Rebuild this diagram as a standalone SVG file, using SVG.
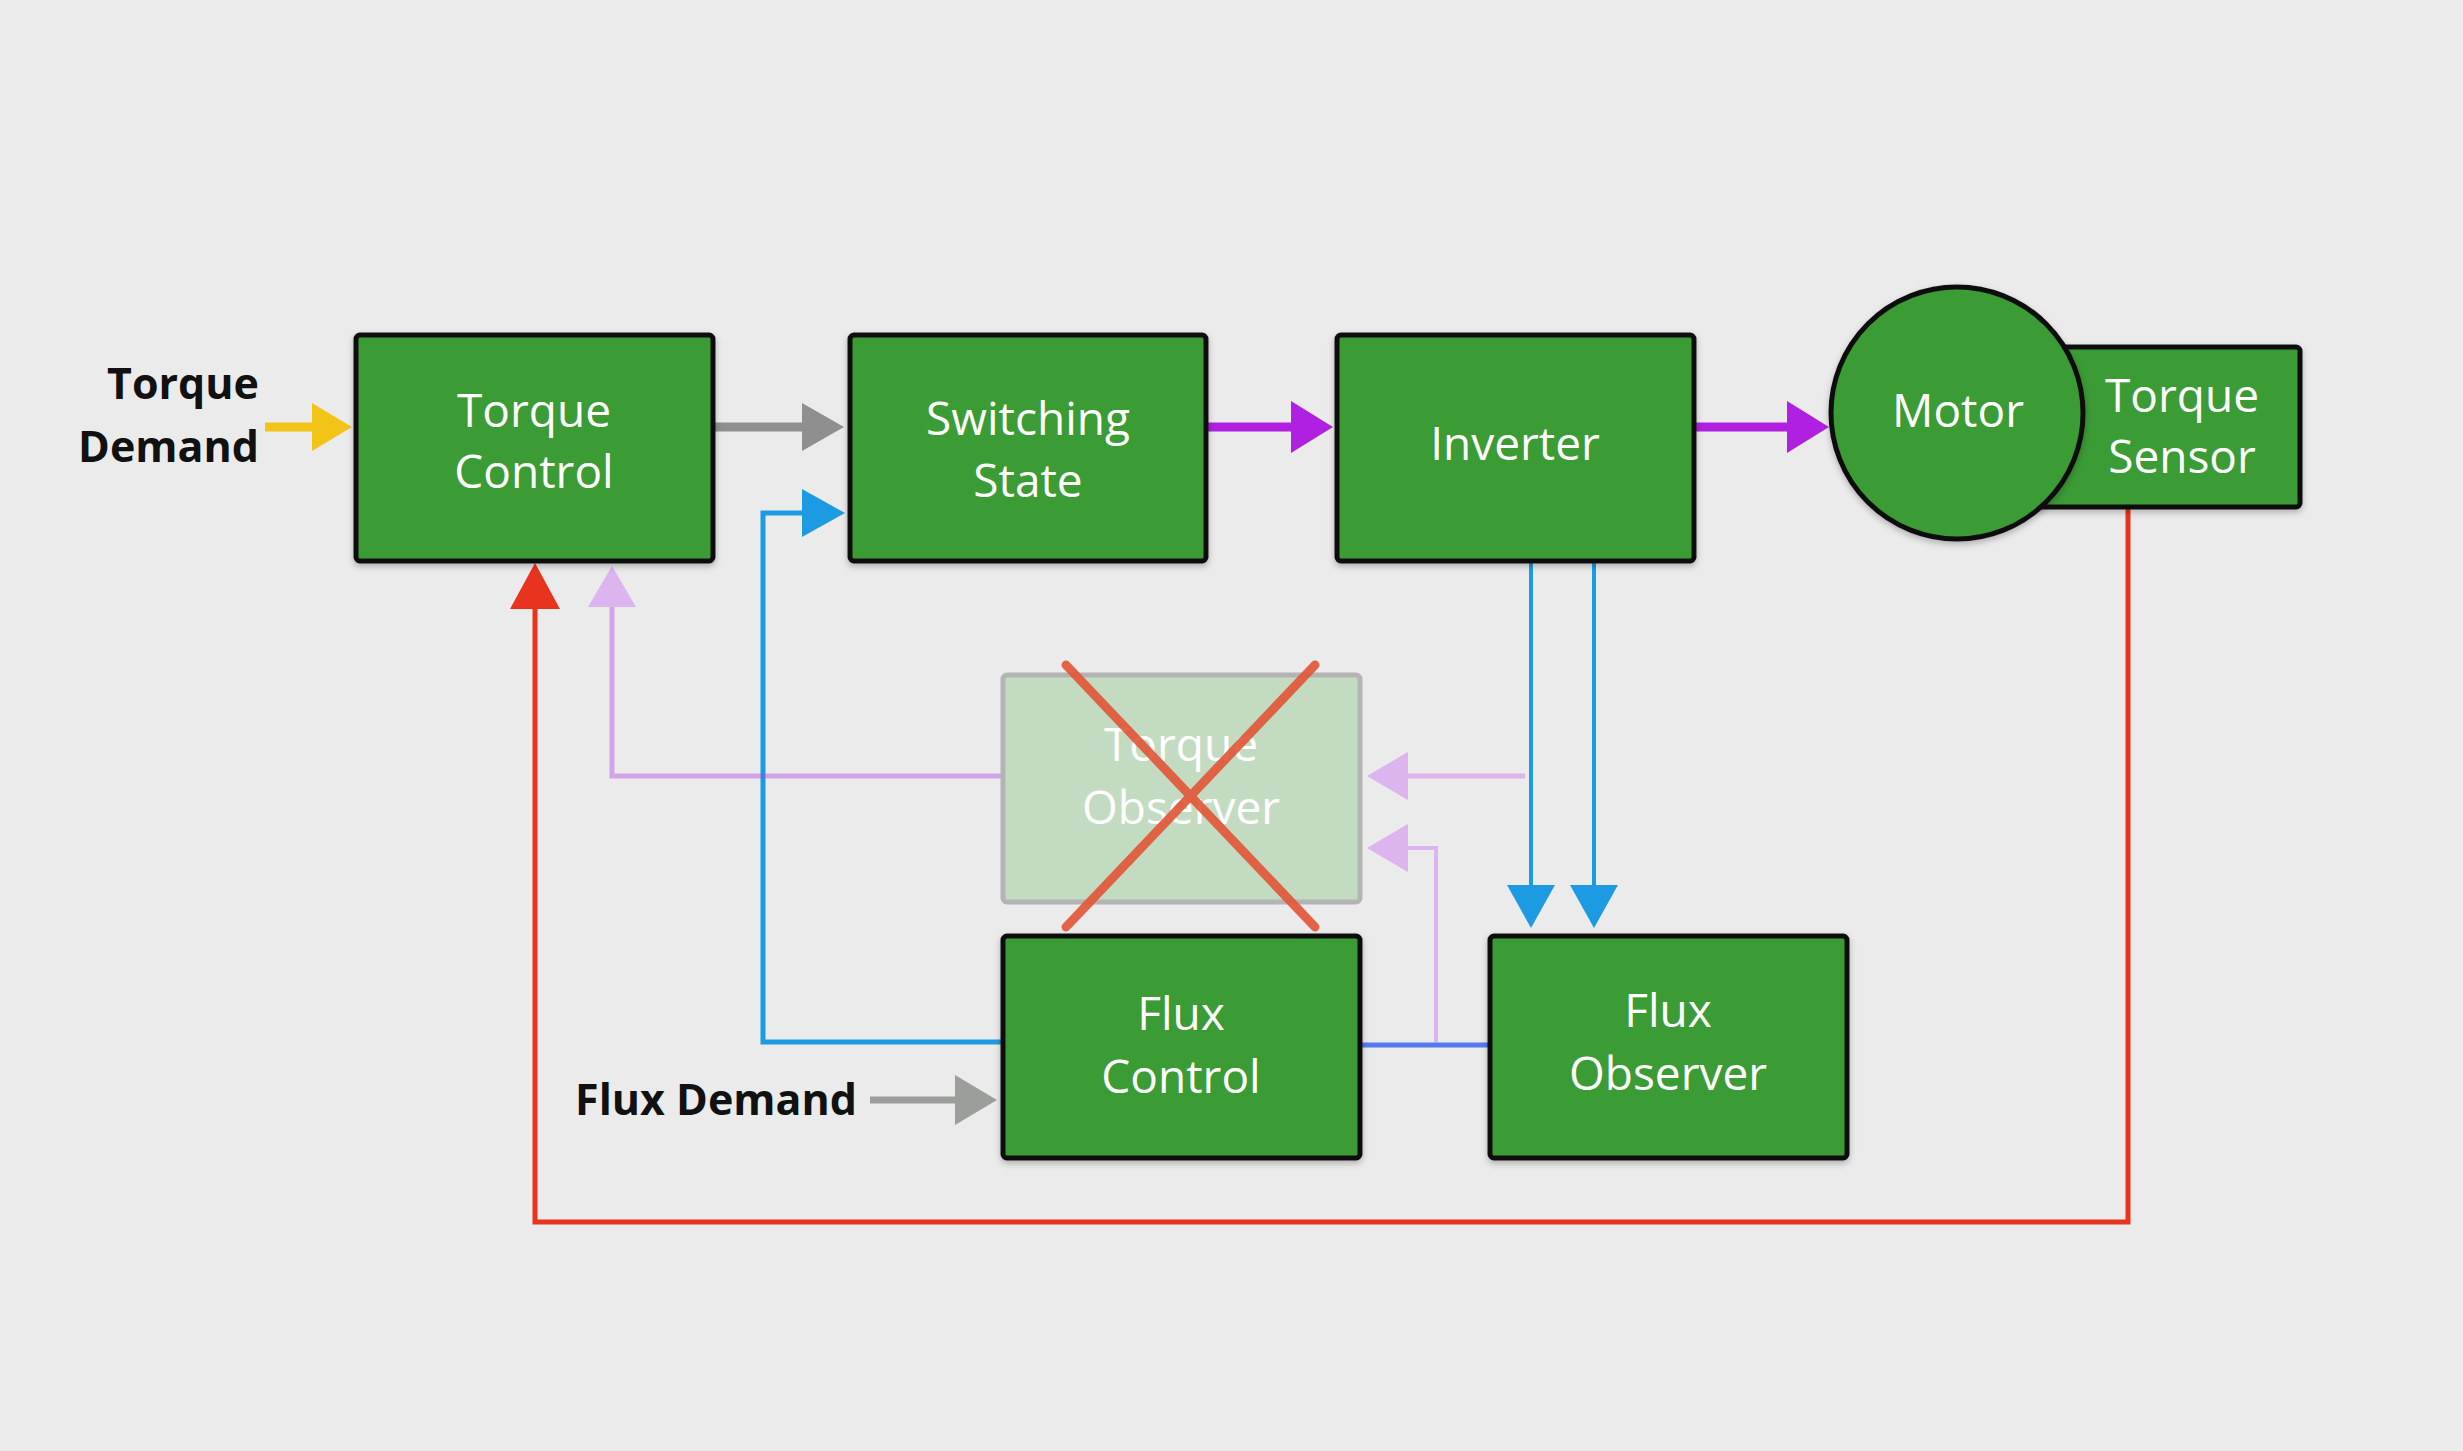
<svg xmlns="http://www.w3.org/2000/svg" width="2463" height="1451" viewBox="0 0 2463 1451">
<defs>
<style>
.box{fill:#3b9b35;stroke:#111;stroke-width:5;filter:url(#sh)}
.wt{font-family:"Open Sans","Noto Sans",sans-serif;font-size:46px;fill:#fff;text-anchor:middle}
.bt{font-family:"Open Sans","Noto Sans",sans-serif;font-size:43px;font-weight:bold;fill:#111}
.ln{fill:none;stroke-linejoin:miter}
</style>
<filter id="sh" x="-10%" y="-10%" width="120%" height="125%">
<feDropShadow dx="0" dy="3" stdDeviation="3" flood-color="#000" flood-opacity="0.25"/>
</filter>
<marker id="a-yel" markerUnits="userSpaceOnUse" viewBox="0 0 40 48" markerWidth="40" markerHeight="48" refX="0" refY="24" orient="auto"><path d="M0,0 L40,24 L0,48 Z" fill="#f2c417"/></marker>
<marker id="a-gry" markerUnits="userSpaceOnUse" viewBox="0 0 42 48" markerWidth="42" markerHeight="48" refX="0" refY="24" orient="auto"><path d="M0,0 L42,24 L0,48 Z" fill="#8f8f8f"/></marker>
<marker id="a-gry2" markerUnits="userSpaceOnUse" viewBox="0 0 42 50" markerWidth="42" markerHeight="50" refX="0" refY="25" orient="auto"><path d="M0,0 L42,25 L0,50 Z" fill="#9c9e9c"/></marker>
<marker id="a-blu" markerUnits="userSpaceOnUse" viewBox="0 0 43 48" markerWidth="43" markerHeight="48" refX="0" refY="24" orient="auto"><path d="M0,0 L43,24 L0,48 Z" fill="#1d9be2"/></marker>
<marker id="a-pur" markerUnits="userSpaceOnUse" viewBox="0 0 42 52" markerWidth="42" markerHeight="52" refX="0" refY="26" orient="auto"><path d="M0,0 L42,26 L0,52 Z" fill="#b020e0"/></marker>
<marker id="a-red" markerUnits="userSpaceOnUse" viewBox="0 0 46 50" markerWidth="46" markerHeight="50" refX="0" refY="25" orient="auto"><path d="M0,0 L46,25 L0,50 Z" fill="#e8341e"/></marker>
<marker id="a-lav" markerUnits="userSpaceOnUse" viewBox="0 0 41 48" markerWidth="41" markerHeight="48" refX="0" refY="24" orient="auto"><path d="M0,0 L41,24 L0,48 Z" fill="#dcb4ee"/></marker>
</defs>
<rect x="0" y="0" width="2463" height="1451" fill="#ebebeb"/>

<g id="connectors">
<path class="ln" d="M265,427 H312" stroke="#f2c417" stroke-width="9" marker-end="url(#a-yel)"/>
<path class="ln" d="M713,427 H802" stroke="#8f8f8f" stroke-width="9" marker-end="url(#a-gry)"/>
<path class="ln" d="M1206,427 H1291" stroke="#b020e0" stroke-width="9" marker-end="url(#a-pur)"/>
<path class="ln" d="M1694,427 H1787" stroke="#b020e0" stroke-width="9" marker-end="url(#a-pur)"/>
<path class="ln" d="M2128,507 V1222 H535 V609" stroke="#e8341e" stroke-width="5" marker-end="url(#a-red)"/>
<path class="ln" d="M1002,1042 H763 V513 H802" stroke="#1d9be2" stroke-width="5" marker-end="url(#a-blu)"/>
<path class="ln" d="M1531,562 V885" stroke="#1d9be2" stroke-width="4" marker-end="url(#a-blu)"/>
<path class="ln" d="M1594,562 V885" stroke="#1d9be2" stroke-width="4" marker-end="url(#a-blu)"/>
<path class="ln" d="M1360,1045 H1491" stroke="#5878ee" stroke-width="5"/>
<g opacity="0.4">
<path class="ln" d="M1002,776 H612 V607" stroke="#a93ee0" stroke-width="5"/>
</g>
<path class="ln" d="M612,610 V607" stroke="none" marker-end="url(#a-lav)"/>
<path class="ln" d="M1525,776 H1408" stroke="#dcb4ee" stroke-width="5" marker-end="url(#a-lav)"/>
<path class="ln" d="M1436,1042 V848 H1408" stroke="#dcb4ee" stroke-width="4" marker-end="url(#a-lav)"/>
<path class="ln" d="M870,1100 H955" stroke="#9c9e9c" stroke-width="7" marker-end="url(#a-gry2)"/>
</g>

<g id="torque-demand-label">
<text class="bt" x="259" y="399" text-anchor="end">Torque</text>
<text class="bt" x="259" y="462" text-anchor="end">Demand</text>
</g>
<g id="flux-demand-label">
<text class="bt" x="857" y="1115" text-anchor="end">Flux Demand</text>
</g>

<g id="torque-control">
<rect class="box" x="356" y="335" width="357" height="226" rx="4"/>
<text class="wt" x="534" y="427">Torque</text>
<text class="wt" x="534" y="488">Control</text>
</g>
<g id="switching-state">
<rect class="box" x="850" y="335" width="356" height="226" rx="4"/>
<text class="wt" x="1028" y="435">Switching</text>
<text class="wt" x="1028" y="497">State</text>
</g>
<g id="inverter">
<rect class="box" x="1337" y="335" width="357" height="226" rx="4"/>
<text class="wt" x="1515" y="460">Inverter</text>
</g>
<g id="torque-sensor">
<rect class="box" x="1990" y="347" width="310" height="160" rx="4"/>
<text class="wt" x="2182" y="412">Torque</text>
<text class="wt" x="2182" y="473">Sensor</text>
</g>
<g id="motor">
<circle cx="1957" cy="413" r="126" fill="#3b9b35" stroke="#111" stroke-width="5" filter="url(#sh)"/>
<text class="wt" x="1958" y="427">Motor</text>
</g>
<g id="torque-observer">
<rect x="1003" y="675" width="357" height="227" rx="4" fill="#c3dcc1" stroke="#b4b4b4" stroke-width="5"/>
<text class="wt" x="1181" y="761">Torque</text>
<text class="wt" x="1181" y="824">Observer</text>
<g stroke="#e2583a" stroke-width="9" stroke-linecap="round" opacity="0.92">
<line x1="1066" y1="665" x2="1315" y2="927"/>
<line x1="1315" y1="665" x2="1066" y2="927"/>
</g>
</g>
<g id="flux-control">
<rect class="box" x="1003" y="936" width="357" height="222" rx="4"/>
<text class="wt" x="1181" y="1030">Flux</text>
<text class="wt" x="1181" y="1093">Control</text>
</g>
<g id="flux-observer">
<rect class="box" x="1490" y="936" width="357" height="222" rx="4"/>
<text class="wt" x="1668" y="1027">Flux</text>
<text class="wt" x="1668" y="1090">Observer</text>
</g>
</svg>
